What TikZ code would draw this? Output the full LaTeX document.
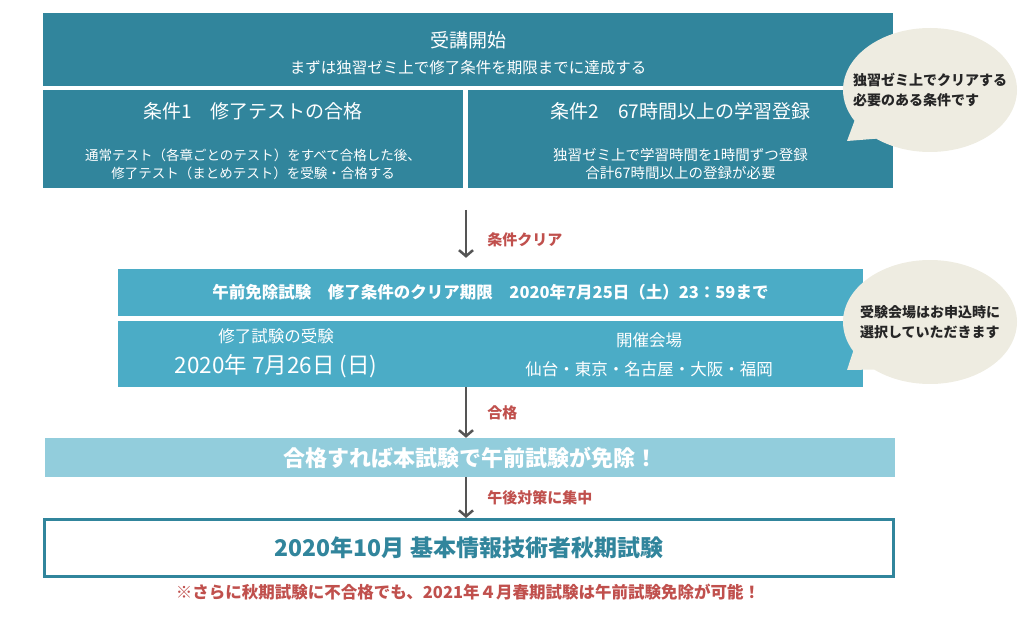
\documentclass[tikz,border=0pt]{standalone}
\usepackage{fontspec}
\setmainfont{Noto Sans CJK JP}
\usetikzlibrary{positioning, shapes.callouts, arrows.meta}
\definecolor{deepteal}{RGB}{49,133,156}
\definecolor{midteal}{RGB}{75,172,198}
\definecolor{paleteal}{RGB}{146,205,220}
\definecolor{notered}{RGB}{192,80,77}
\definecolor{bubblefill}{RGB}{238,236,225}
\definecolor{arrowgray}{RGB}{85,85,85}
\newcommand{\fsz}[2]{\fontsize{#1}{#2}\selectfont}

\begin{document}
\begin{tikzpicture}[x=1pt, y=-1pt, inner sep=0pt,
    box/.style={rectangle, text=white, align=center},
    deep/.style={box, fill=deepteal},
    mid/.style={box, fill=midteal},
    flow/.style={draw=arrowgray, line width=2.5pt, -{Straight Barb[length=6pt,width=14pt]}},
    flow_label/.style={midway, anchor=west, xshift=20pt, text=notered, font=\fsz{15}{15}\bfseries},
    bubble/.style={ellipse callout, fill=bubblefill, minimum width=174pt, minimum height=124pt,
      callout pointer arc=22},
    bubble_text/.style={align=left, text=black!85, font=\fsz{14}{20}\bfseries}]
  \useasboundingbox (0,0) rectangle (1024,617);
  \node[deep, minimum width=850pt, minimum height=73pt] (start) at (468,49.5) {};
  \node[box, font=\fsz{15.5}{26}] (start_text) at (468,53)
    {{\fsz{19}{19}受講開始}\\まずは独習ゼミ上で修了条件を期限までに達成する};
  \node[deep, minimum width=420pt, minimum height=98pt] (cond_one) at (253,139) {};
  \node[box, font=\fsz{13.5}{18}] (cond_one_text) at (253,141.5)
    {{\fsz{19}{19}条件1　修了テストの合格}\\[24pt]通常テスト（各章ごとのテスト）をすべて合格した後、\\修了テスト（まとめテスト）を受験・合格する};
  \node[deep, minimum width=425pt, minimum height=98pt] (cond_two) at (680.5,139) {};
  \node[box, font=\fsz{14.5}{18}] (cond_two_text) at (680.5,141.5)
    {{\fsz{19}{19}条件2　67時間以上の学習登録}\\[24pt]独習ゼミ上で学習時間を1時間ずつ登録\\合計67時間以上の登録が必要};
  \node[mid, minimum width=745pt, minimum height=47pt, font=\fsz{16.5}{16.5}\bfseries] (deadline) at (490.5,292.5)
    {午前免除試験　修了条件のクリア期限　2020年7月25日（土）23：59まで};
  \node[mid, minimum width=745pt, minimum height=66pt] (exam_day) at (490.5,354) {};
  \node[box, font=\fsz{16.5}{31}] (sitting) at (276,353) {修了試験の受験\\{\fsz{22.5}{22.5}2020年 7月26日 (日)}};
  \node[box, font=\fsz{16.5}{29}] (venue) at (649,355) {開催会場\\仙台・東京・名古屋・大阪・福岡};
  \node[box, fill=paleteal, minimum width=850pt, minimum height=39pt, font=\fsz{22}{22}\bfseries] (exempt) at (470,457.5)
    {合格すれば本試験で午前試験が免除！};
  \node[box, draw=deepteal, line width=3pt, fill=white, text=deepteal, minimum width=849pt, minimum height=57pt,
    font=\fsz{23}{23}\bfseries] (autumn) at (469,548) {2020年10月 基本情報技術者秋期試験};
  \node[text=notered, font=\fsz{16.5}{16.5}\bfseries] (footnote) at (468,592)
    {※さらに秋期試験に不合格でも、2021年４月春期試験は午前試験免除が可能！};
  \node[bubble, callout absolute pointer={(847,141)}] (note_self) at (930,90) {};
  \node[bubble_text] (note_self_text) at (note_self.center) {独習ゼミ上でクリアする\\必要のある条件です};
  \node[bubble, callout absolute pointer={(847,370)}] (note_venue) at (930,322) {};
  \node[bubble_text] (note_venue_text) at (note_venue.center) {受験会場はお申込時に\\選択していただきます};
  \coordinate (axis) at (466,0);
  \coordinate (clear) at (466,210);
  \draw[flow, shorten >=11pt] (clear) -- (deadline.north -| axis) node[flow_label] {条件クリア};
  \draw[flow] (exam_day.south -| axis) -- (exempt.north -| axis) node[flow_label] {合格};
  \draw[flow] (exempt.south -| axis) -- (autumn.north -| axis) node[flow_label] {午後対策に集中};
\end{tikzpicture}
\end{document}
